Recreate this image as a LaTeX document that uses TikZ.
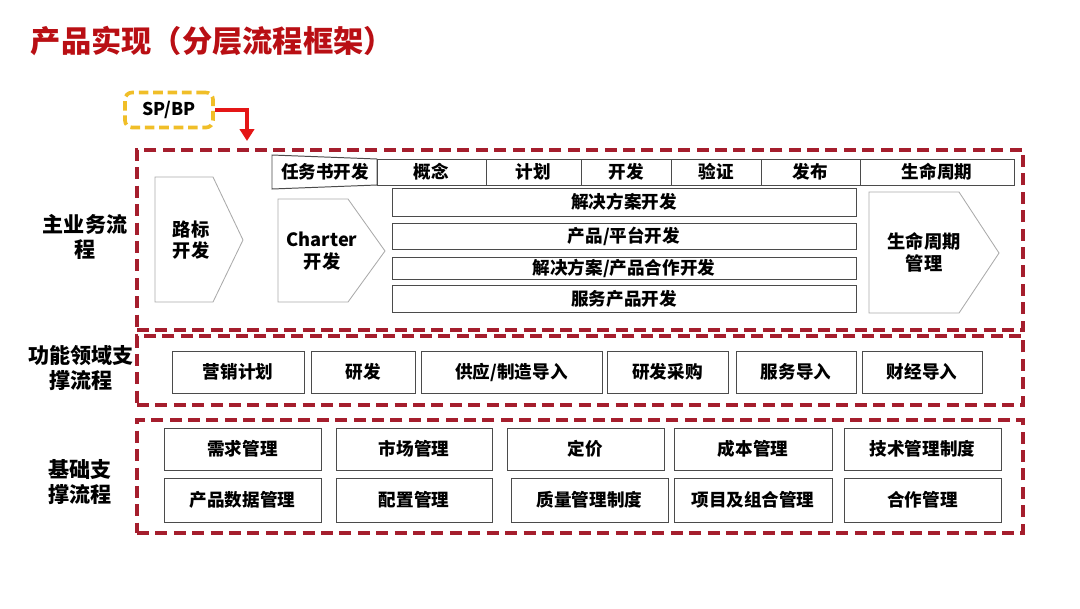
\documentclass[tikz,border=0pt]{standalone}
\usepackage{fontspec}
\setmainfont{Noto Sans CJK SC}
\usetikzlibrary{arrows.meta,positioning}
\definecolor{framered}{RGB}{165,30,45}
\definecolor{titlered}{RGB}{185,15,20}
\definecolor{spgold}{RGB}{240,190,40}
\definecolor{arrowred}{RGB}{228,22,22}
\definecolor{chevgray}{RGB}{170,170,170}
\definecolor{boxgray}{RGB}{75,75,75}
\newcommand\pxu{0.025cm}
\tikzset{layer/.style={draw=framered, line width=2.2pt, dash pattern=on 0.3cm off 0.16cm, inner sep=0pt}}
\tikzset{cell/.style 2 args={draw=boxgray, line width=0.7pt, fill=white, inner sep=0pt,
    minimum width=#1*\pxu, minimum height=#2*\pxu, font=\fontsize{12.5}{14}\selectfont\bfseries}}
\tikzset{chev/.style={draw=chevgray, line width=0.6pt, fill=white}}
\tikzset{chevtext/.style={align=center, font=\fontsize{13}{15.5}\selectfont\bfseries}}
\tikzset{sidelabel/.style={align=center, font=\fontsize{15}{18}\selectfont\bfseries}}

\begin{document}
\begin{tikzpicture}[x=\pxu, y=-\pxu]
\useasboundingbox (0,0) rectangle (1080,608);

\node[anchor=west, text=titlered, font=\fontsize{21.5}{24}\selectfont\bfseries] (title) at (26,41) {产品实现（分层流程框架）};

% SP/BP input
\node[draw=spgold, line width=2.6pt, dash pattern=on 0.24cm off 0.12cm, rounded corners=5pt,
      minimum width=88*\pxu, minimum height=35*\pxu, font=\fontsize{12.5}{14}\selectfont\bfseries] (spbp) at (169,110) {SP/BP};
\coordinate (spin) at (247,141);
\draw[arrowred, line width=2.2pt, -{Triangle[width=0.36cm,length=0.3cm]}] (spbp.east) -| (spin);

% three layers
\node[layer, minimum width=886*\pxu, minimum height=180*\pxu] (mainL) at (580,240) {};
\node[layer, minimum width=886*\pxu, minimum height=69*\pxu] (funcL) at (580,370.5) {};
\node[layer, minimum width=886*\pxu, minimum height=113*\pxu] (baseL) at (580,476.5) {};

\node[sidelabel] (mainlab) at (85,237) {主业务流\\程};
\node[sidelabel] (funclab) at (81,368) {功能领域支\\撑流程};
\node[sidelabel] (baselab) at (80,482) {基础支\\撑流程};

% main flow
\draw[chev] (155,177) -- (213,177) -- (243,240) -- (213,302) -- (155,302) -- cycle;
\node[chevtext] (roadmap) at (191,240) {路标\\开发};
\draw[chev] (278,199) -- (348,199) -- (385,251) -- (348,302) -- (278,302) -- cycle;
\node[chevtext] (charter) at (322,251) {Charter\\开发};
\draw[chev] (869,192) -- (959,192) -- (999,253) -- (959,313) -- (869,313) -- cycle;
\node[chevtext] (lifemgmt) at (924,252) {生命周期\\管理};

\draw[draw=boxgray, line width=0.7pt] (272,155) -- (377,159) -- (377,185) -- (272,189) -- cycle;
\node[font=\fontsize{12.5}{14}\selectfont\bfseries] (taskbook) at (325,172) {任务书开发};
\node[cell={109}{26}] (concept) at (431.5,172) {概念};
\node[cell={95}{26}]  (plan)    at (533.5,172) {计划};
\node[cell={90}{26}]  (develop) at (626,172)   {开发};
\node[cell={90}{26}]  (verify)  at (716,172)   {验证};
\node[cell={99}{26}]  (release) at (810.5,172) {发布};
\node[cell={154}{26}] (life)    at (937,172)   {生命周期};

\node[cell={464}{28}] (soldev)  at (624,202)   {解决方案开发};
\node[cell={464}{26}] (platdev) at (624,236)   {产品/平台开发};
\node[cell={464}{22}] (coopdev) at (624,268)   {解决方案/产品合作开发};
\node[cell={464}{27}] (servdev) at (624,298.5) {服务产品开发};

% functional support
\node[cell={132}{42}] (mkt)   at (238,372)   {营销计划};
\node[cell={104}{42}] (rnd)   at (363,372)   {研发};
\node[cell={181}{42}] (supply) at (511.5,372) {供应/制造导入};
\node[cell={121}{42}] (purch) at (667.5,372) {研发采购};
\node[cell={120}{42}] (serv)  at (796,372)   {服务导入};
\node[cell={120}{42}] (fin)   at (922,372)   {财经导入};

% basic support
\node[cell={157}{42}] (req)   at (242.5,449) {需求管理};
\node[cell={156}{42}] (market) at (414,449)  {市场管理};
\node[cell={157}{42}] (price) at (585.5,449) {定价};
\node[cell={158}{42}] (cost)  at (753,449)   {成本管理};
\node[cell={157}{42}] (tech)  at (922.5,449) {技术管理制度};
\node[cell={157}{44}] (pdm)   at (242.5,500) {产品数据管理};
\node[cell={156}{44}] (config) at (414,500)  {配置管理};
\node[cell={157}{44}] (quality) at (589.5,500) {质量管理制度};
\node[cell={158}{44}] (portf) at (753,500)   {项目及组合管理};
\node[cell={157}{44}] (coop)  at (922.5,500) {合作管理};
\end{tikzpicture}
\end{document}
